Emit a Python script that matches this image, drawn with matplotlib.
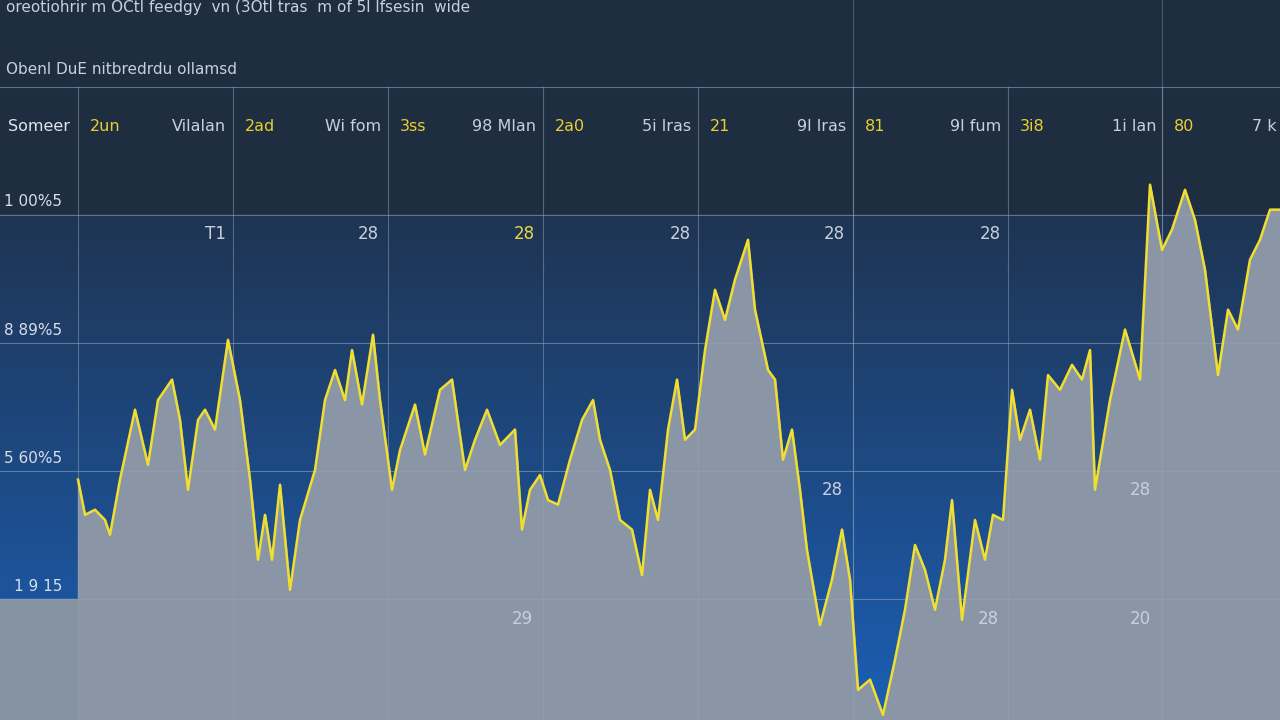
import numpy as np
import matplotlib.pyplot as plt

# position along the time axis and value of the yellow line
x = [78, 85, 95, 105, 110, 120, 135, 148, 158, 172, 180, 188, 198, 205, 215, 228, 240, 250,
     258, 265, 272, 280, 290, 300, 315, 325, 335, 345, 352, 362, 373, 380, 392, 400, 415, 425,
     440, 452, 465, 475, 487, 500, 515, 522, 530, 540, 548, 558, 570, 582, 593, 600, 610, 620,
     632, 642, 650, 658, 668, 677, 685, 695, 705, 715, 725, 735, 748, 755, 768, 775, 783, 792,
     800, 807, 820, 832, 842, 850, 858, 870, 883, 895, 905, 915, 925, 935, 945, 952, 962, 975,
     985, 993, 1003, 1012, 1020, 1030, 1040, 1048, 1060, 1072, 1082, 1090, 1095, 1110, 1125,
     1140, 1150, 1162, 1172, 1185, 1195, 1205, 1218, 1228, 1238, 1250, 1260, 1270, 1280]
values = [58.7, 53.2, 54.0, 52.4, 50.1, 58.7, 69.6, 61.0, 71.1, 74.3, 68.0, 57.1, 68.0, 69.6,
          66.5, 80.5, 71.1, 58.7, 46.2, 53.2, 46.2, 57.9, 41.5, 52.4, 60.2, 71.1, 75.8, 71.1,
          78.9, 70.4, 81.3, 71.1, 57.1, 63.3, 70.4, 62.6, 72.7, 74.3, 60.2, 64.9, 69.6, 64.1,
          66.5, 50.9, 57.1, 59.4, 55.5, 54.8, 61.8, 68.0, 71.1, 64.9, 60.2, 52.4, 50.9, 43.8,
          57.1, 52.4, 66.5, 74.3, 64.9, 66.5, 78.9, 88.3, 83.6, 89.9, 96.1, 85.2, 75.8, 74.3,
          61.8, 66.5, 57.1, 47.7, 36.0, 43.1, 50.9, 43.1, 25.9, 27.5, 22.0, 30.6, 38.4, 48.5,
          44.6, 38.4, 46.2, 55.5, 36.8, 52.4, 46.2, 53.2, 52.4, 72.7, 64.9, 69.6, 61.8, 75.0,
          72.7, 76.6, 74.3, 78.9, 57.1, 71.1, 82.1, 74.3, 104.7, 94.5, 97.7, 103.9, 99.2, 91.4,
          75.0, 85.2, 82.1, 93.0, 96.1, 100.8, 100.8]

y_ticks = [100, 80, 60, 40]
y_labels = ['1 00%5', '8 89%5', '5 60%5', '1 9 15']
col_x = [78, 233, 388, 543, 698, 853, 1008, 1162]
head_yellow = ['2un', '2ad', '3ss', '2a0', '21', '81', '3i8', '80']
head_white = ['Vilalan', 'Wi fom', '98 Mlan', '5i lras', '9l lras', '9l fum', '1i lan', '7 k']
mid_labels = [(215, 97, 'T1', '#c8d0dc'), (368, 97, '28', '#c8d0dc'), (524, 97, '28', '#e8d84a'),
              (680, 97, '28', '#c8d0dc'), (834, 97, '28', '#c8d0dc'), (990, 97, '28', '#c8d0dc'),
              (832, 57, '28', '#c8d0dc'), (1140, 57, '28', '#c8d0dc'),
              (522, 37, '29', '#c8d0dc'), (988, 37, '28', '#c8d0dc'), (1140, 37, '20', '#c8d0dc')]

fig = plt.figure(figsize=(12.8, 7.2), dpi=100)
fig.patch.set_facecolor('#1f2d40')
ax = fig.add_axes([0, 0, 1, 1])
ax.set_xlim(0, 1280)
ax.set_ylim(21.2, 133.5)
ax.axis('off')

# header band and blue gradient plot area
ax.axhspan(100, 133.5, color='#1f2d40', zorder=0)
grad = np.linspace(0, 1, 256).reshape(-1, 1)
cmap = plt.matplotlib.colors.LinearSegmentedColormap.from_list('g', ['#1b5fb5', '#1f3452'])
ax.imshow(grad, extent=(0, 1280, 21.2, 100), aspect='auto', cmap=cmap, origin='lower', zorder=0)
ax.fill_between([0, 78], 21.2, 40, color='#8693a3', zorder=1)

ax.fill_between(x, values, 21.2, color='#8a96a5', zorder=2)
ax.plot(x, values, color='#f0de30', lw=1.8, zorder=4)

for yt in y_ticks + [120]:
    ax.axhline(yt, color='#8fa0b8', lw=0.8, alpha=0.6, zorder=3)
for cx in col_x:
    ax.axvline(cx, ymin=0, ymax=(120 - 21.2) / 112.3, color='#8fa0b8', lw=0.8, alpha=0.5, zorder=3)
ax.axvline(853, color='#8fa0b8', lw=0.8, alpha=0.4, zorder=3)
ax.axvline(1162, color='#8fa0b8', lw=0.8, alpha=0.4, zorder=3)

for yt, lab in zip(y_ticks, y_labels):
    ax.text(62, yt + 2, lab, color='#d8dee8', fontsize=11, ha='right', va='center', zorder=5)

ax.text(6, 132.4, 'oreotiohrir m OCtl feedgy  vn (3Otl tras  m of 5l lfsesin  wide', color='#c8d0dc', fontsize=11, va='center')
ax.text(6, 122.6, 'Obenl DuE nitbredrdu ollamsd', color='#c8d0dc', fontsize=11, va='center')
ax.text(8, 113.7, 'Someer', color='#e0e6ee', fontsize=11.5, va='center')
for i, (cx, hy, hw) in enumerate(zip(col_x, head_yellow, head_white)):
    ax.text(cx + 12, 113.7, hy, color='#e8d030', fontsize=11.5, va='center')
    wx = min(cx + 148, 1277)
    ax.text(wx, 113.7, hw, color='#c8d0dc', fontsize=11.5, va='center', ha='right')
for px, py, t, c in mid_labels:
    ax.text(px, py, t, color=c, fontsize=12, ha='center', va='center', zorder=5)

fig.savefig('out.png', dpi=100, facecolor=fig.get_facecolor())
